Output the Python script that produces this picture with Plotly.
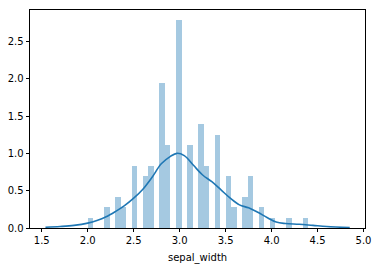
import plotly.graph_objects as go

# Histogram bins (left edges, width 0.06) and density heights
bin_left = [2.00, 2.18, 2.30, 2.36, 2.48, 2.60, 2.66, 2.78, 2.84, 2.96, 3.08,
            3.20, 3.26, 3.38, 3.50, 3.56, 3.68, 3.74, 3.86, 3.98, 4.16, 4.34]
bin_density = [0.14, 0.28, 0.42, 0.28, 0.83, 0.69, 0.83, 1.94, 1.11, 2.78, 1.11,
               1.39, 0.83, 1.25, 0.69, 0.28, 0.42, 0.69, 0.28, 0.14, 0.14, 0.14]
bin_width = 0.06

# KDE curve points
kde_x = [1.54, 1.70, 1.85, 2.00, 2.10, 2.20, 2.30, 2.40, 2.50, 2.60, 2.70, 2.80,
         2.90, 2.97, 3.05, 3.15, 3.25, 3.35, 3.45, 3.55, 3.65, 3.75, 3.85, 3.95,
         4.05, 4.15, 4.30, 4.45, 4.60, 4.85]
kde_y = [0.01, 0.02, 0.035, 0.065, 0.10, 0.15, 0.22, 0.30, 0.40, 0.52, 0.68, 0.86,
         0.96, 1.00, 0.97, 0.84, 0.71, 0.62, 0.51, 0.40, 0.31, 0.27, 0.21, 0.14,
         0.08, 0.06, 0.05, 0.035, 0.02, 0.005]

x_ticks = [1.5, 2.0, 2.5, 3.0, 3.5, 4.0, 4.5, 5.0]
y_ticks = [0.0, 0.5, 1.0, 1.5, 2.0, 2.5]
x_label = "sepal_width"

centers = [b + bin_width / 2 for b in bin_left]

fig = go.Figure()
fig.add_trace(go.Bar(
    x=centers, y=bin_density, width=[bin_width] * len(centers),
    marker=dict(color="rgba(31,119,180,0.4)", line=dict(width=0)),
    showlegend=False, hoverinfo="skip",
))
fig.add_trace(go.Scatter(
    x=kde_x, y=kde_y, mode="lines",
    line=dict(color="#1f77b4", width=1.6, shape="spline", smoothing=1.0),
    showlegend=False,
))

axis_common = dict(
    showline=True, linecolor="black", linewidth=0.8, mirror=True,
    ticks="outside", ticklen=3.5, tickwidth=0.8, tickcolor="black",
    showgrid=False, zeroline=False, automargin=False,
    tickfont=dict(family="DejaVu Sans", size=10, color="black"),
)

fig.update_layout(
    width=378, height=267,
    margin=dict(l=30, r=13, t=10, b=38.5),
    paper_bgcolor="white", plot_bgcolor="white",
    bargap=0,
    font=dict(family="DejaVu Sans", size=10, color="black"),
    xaxis=dict(range=[1.372, 5.016], tickvals=x_ticks, tickformat=".1f",
               **axis_common),
    yaxis=dict(range=[0, 2.92], tickvals=y_ticks, tickformat=".1f", **axis_common),
    annotations=[dict(
        text=x_label, xref="paper", yref="paper", x=0.5, y=0,
        xanchor="center", yanchor="top", yshift=-23, borderpad=0,
        showarrow=False,
        font=dict(family="DejaVu Sans", size=10, color="black"),
    )],
)

fig.write_html("out.html")
